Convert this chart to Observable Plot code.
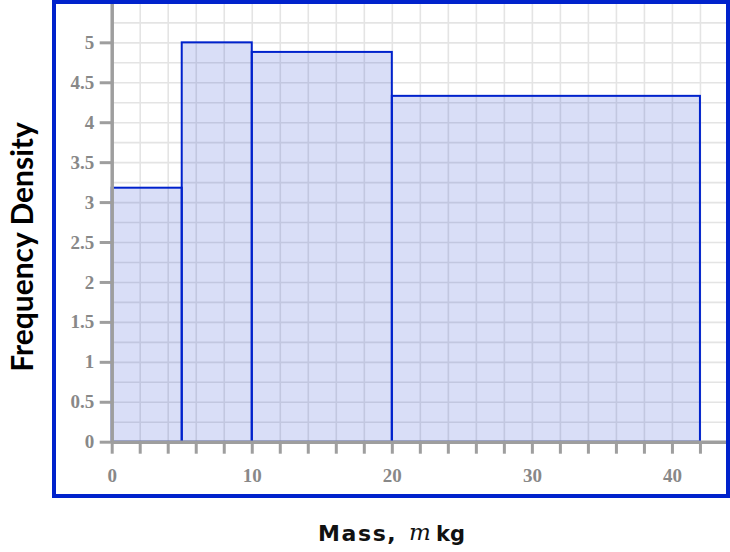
<!DOCTYPE html>
<html>
<head>
<meta charset="utf-8">
<script src="https://cdn.jsdelivr.net/npm/d3@7"></script>
<script src="https://cdn.jsdelivr.net/npm/@observablehq/plot@0.6"></script>
<style>
  html, body { margin: 0; padding: 0; background: #fff; }
  #wrap { position: relative; width: 730px; height: 552px; overflow: hidden; }
  #chart { position: absolute; left: 0; top: 0; }
  #chart svg text { font-family: "Liberation Serif", "DejaVu Serif", serif !important; font-size: 19px !important; font-weight: bold !important; }
  #frame { position: absolute; left: 52px; top: 0; width: 678px; height: 498px; border: 4px solid #0022cc; box-sizing: border-box; pointer-events: none; }
  #ylabel { position: absolute; left: 21px; top: 247px; transform: translate(-50%, -50%) rotate(-90deg); white-space: nowrap; font-family: Lato, sans-serif; font-weight: 700; font-size: 30px; color: #000; }
  .xl { position: absolute; top: 534px; transform: translateY(-50%); white-space: nowrap; color: #111; line-height: 1; }
  #xl1 { left: 318px; font-family: "DejaVu Sans", sans-serif; font-weight: 700; font-size: 22px; letter-spacing: 1.6px; }
  #xl2 { left: 409px; top: 532px; font-family: "DejaVu Serif", serif; font-style: italic; font-size: 23px; }
  #xl3 { left: 436px; font-family: "DejaVu Sans", sans-serif; font-weight: 700; font-size: 21px; }
</style>
</head>
<body>
<div id="wrap">
  <div id="chart"></div>
  <div id="frame"></div>
  <div id="ylabel">Frequency Density</div>
  <span class="xl" id="xl1">Mass,</span><span class="xl" id="xl2">m</span><span class="xl" id="xl3">kg</span>
</div>
<script>
// Class intervals (mass, kg) and frequency densities
const classLower = [0, 5, 10, 20];
const classUpper = [5, 10, 20, 42];
const freqDensity = [3.18, 5, 4.88, 4.33];

// Tick positions and labels
const xTicks = [0, 2, 4, 6, 8, 10, 12, 14, 16, 18, 20, 22, 24, 26, 28, 30, 32, 34, 36, 38, 40, 42];
const xTickLabels = [0, 10, 20, 30, 40];
const yTicks = [0, 0.5, 1, 1.5, 2, 2.5, 3, 3.5, 4, 4.5, 5];
const yGrid = [0.25, 0.5, 0.75, 1, 1.25, 1.5, 1.75, 2, 2.25, 2.5, 2.75, 3, 3.25, 3.5, 3.75, 4, 4.25, 4.5, 4.75, 5, 5.25, 5.5];

const bars = classLower.map((lo, i) => ({lo, hi: classUpper[i], fd: freqDensity[i]}));

const axisColor = "#9e9e9e";
const gridColor = "#e4e4e4";
const blue = "#0022cc";

const chart = Plot.plot({
  width: 730,
  height: 500,
  marginLeft: 111.7,
  marginRight: 4,
  marginTop: 0,
  marginBottom: 58.3,
  x: {domain: [0, 43.86]},
  y: {domain: [0, 5.53]},
  style: {background: "white"},
  marks: [
    Plot.ruleX(xTicks.filter(d => d > 0), {stroke: gridColor, strokeWidth: 1.6}),
    Plot.ruleY(yGrid, {stroke: gridColor, strokeWidth: 1.6}),
    Plot.rectY(bars, {x1: "lo", x2: "hi", y: "fd", fill: blue, fillOpacity: 0.15, stroke: blue, strokeWidth: 2}),
    Plot.ruleX([0], {stroke: axisColor, strokeWidth: 3.5}),
    Plot.ruleY([0], {stroke: axisColor, strokeWidth: 3.5}),
    Plot.axisX({ticks: xTicks, tickSize: 12, tickPadding: 14, stroke: axisColor, strokeWidth: 3, fill: "#888",
      tickFormat: d => xTickLabels.includes(d) ? String(d) : "", label: null}),
    Plot.axisY({ticks: yTicks, tickSize: 12, tickPadding: 6, stroke: axisColor, strokeWidth: 3, fill: "#888",
      tickFormat: d => String(d), label: null})
  ]
});
document.getElementById("chart").appendChild(chart);
</script>
</body>
</html>
